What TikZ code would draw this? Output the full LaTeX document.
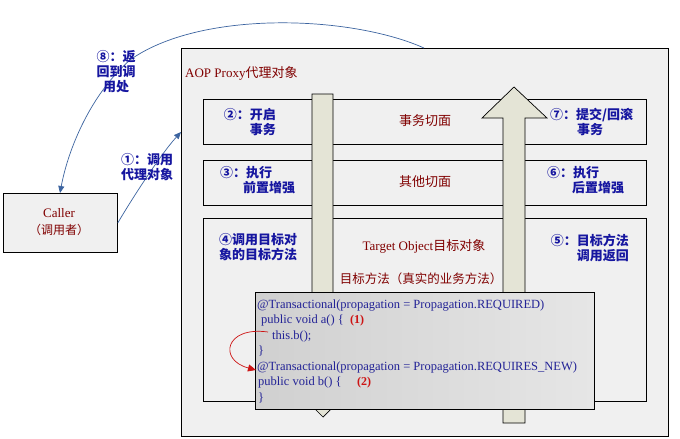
\documentclass[tikz,border=0pt]{standalone}
\usepackage{fontspec}
\setmainfont{Liberation Serif}
\newfontfamily\cjk{Noto Sans CJK SC}
\usetikzlibrary{arrows.meta}
\definecolor{lblblue}{RGB}{22,22,160}
\definecolor{codeblue}{RGB}{35,35,150}
\definecolor{dred}{RGB}{128,0,0}
\definecolor{connblue}{RGB}{60,100,160}
\definecolor{boxfill}{RGB}{240,240,240}
\definecolor{arrowfill}{RGB}{228,228,214}
\definecolor{redarrow}{RGB}{205,20,20}
\definecolor{codeL}{RGB}{208,208,208}
\definecolor{codeR}{RGB}{230,230,230}
\tikzset{
  boxnode/.style={draw=black, line width=0.8pt, fill=boxfill, anchor=north west, inner sep=0pt},
  bigarrow/.style={draw=black, fill=arrowfill, line width=0.7pt},
  lbl/.style={font=\cjk\bfseries\fontsize{13}{15}\selectfont, text=lblblue, inner sep=0pt},
  rtxt/.style={font=\cjk\fontsize{13}{15}\selectfont, text=dred, inner sep=0pt},
  codeline/.style={font=\fontsize{12.5}{15}\selectfont, text=codeblue, inner sep=0pt, anchor=base west},
  codemark/.style={font=\bfseries\fontsize{12}{15}\selectfont, text=redarrow, inner sep=0pt, anchor=base west},
  conn/.style={draw=connblue, line width=0.7pt, -{Triangle[length=7pt,width=6pt]}},
  redconn/.style={draw=redarrow, line width=0.7pt, -{Triangle[length=8pt,width=7pt]}}
}
\begin{document}
\begin{tikzpicture}[x=1pt,y=-1pt]
\useasboundingbox (0,0) rectangle (680,439);
\fill[white] (0,0) rectangle (680,439);

% outer proxy box
\node[boxnode, minimum width=487pt, minimum height=388pt] (proxy) at (181,48) {};
\node[rtxt, anchor=west] (aoplbl) at (185,73) {\rmfamily AOP Proxy{\cjk 代理对象}};

% rows
\node[boxnode, minimum width=443pt, minimum height=45pt] (row1) at (203,99) {};
\node[boxnode, minimum width=443pt, minimum height=45pt] (row2) at (203,160) {};
\node[boxnode, minimum width=443pt, minimum height=183pt] (row3) at (203,218) {};

% big arrows
\draw[bigarrow] (312,94) -- (333,94) -- (333,385) -- (355,385) -- (323,417) -- (291,385) -- (312,385) -- cycle;
\draw[bigarrow] (503,423) -- (525,423) -- (525,118) -- (547,118) -- (514,87) -- (482,118) -- (503,118) -- cycle;

% row texts
\node[rtxt] (t1) at (425,121) {事务切面};
\node[rtxt] (t2) at (425,182) {其他切面};
\node[rtxt] (t3) at (424,246) {{\rmfamily Target Object}目标对象};
\node[rtxt, font=\cjk\fontsize{12.5}{15}\selectfont] (t4) at (421,279) {目标方法（真实的业务方法）};

% blue labels
\node[lbl, align=right, anchor=north east] (l2) at (276,108) {②：开启\\事务};
\node[lbl, align=left, anchor=north west] (l3) at (220,166) {③：执行\\\hspace*{23pt}前置增强};
\node[lbl, align=left, anchor=north west] (l4) at (219,233) {④调用目标对\\象的目标方法};
\node[lbl, align=right, anchor=north east] (l5) at (629,234) {⑤：目标方法\\调用返回};
\node[lbl, align=left, anchor=north west] (l6) at (547,166) {⑥：执行\\\hspace*{25pt}后置增强};
\node[lbl, align=left, anchor=north west] (l7) at (550,108) {⑦：提交/回滚\\\hspace*{27pt}事务};

% caller
\node[boxnode, minimum width=114pt, minimum height=59pt] (caller) at (3,193) {};
\node[rtxt, font=\rmfamily\fontsize{13}{15}\selectfont] (callertxt) at (59,213) {Caller};
\node[rtxt, font=\cjk\fontsize{12}{15}\selectfont] (callercn) at (59,230) {（调用者）};

% connectors
\coordinate (p1) at (181,132);
\coordinate (p8) at (424,48);
\draw[conn] (caller.east) .. controls (130,202) and (160,155) .. (p1);
\draw[conn] (p8) .. controls (350,15) and (200,10) .. (130,60) .. controls (90,95) and (68,150) .. (caller.north -| 60,0);
\node[lbl, align=center] (l1) at (147,167) {①：调用\\代理对象};
\node[lbl, align=center] (l8) at (116,72) {⑧：返\\回到调\\用处};

% code box
\node[draw=black, line width=0.8pt, left color=codeL, right color=codeR, anchor=north west, inner sep=0pt, minimum width=339pt, minimum height=117pt] (code) at (255,292) {};
\node[codeline] (c1) at (257,308) {@Transactional(propagation = Propagation.REQUIRED)};
\node[codeline] (c2) at (261,323.5) {public void a() \{};
\node[codemark] (m1) at (350,323.5) {(1)};
\node[codeline] (c3) at (272,339) {this.b();};
\node[codeline] (c4) at (258,354.5) {\}};
\node[codeline] (c5) at (257,370) {@Transactional(propagation = Propagation.REQUIRES\_NEW)};
\node[codeline] (c6) at (258,385.5) {public void b() \{};
\node[codemark] (m2) at (357,385.5) {(2)};
\node[codeline] (c7) at (258,401) {\}};

% red self-call arrow
\coordinate (rs) at (268,332);
\coordinate (re) at (256,370);
\draw[redconn] (rs) .. controls (225,326) and (218,360) .. (re);
\end{tikzpicture}
\end{document}
